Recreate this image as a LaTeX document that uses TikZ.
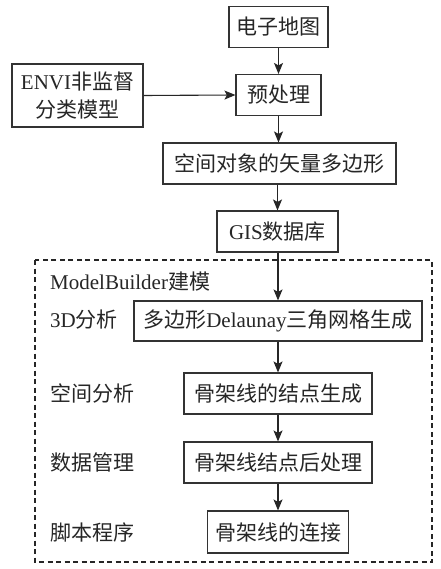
\documentclass[tikz,border=0pt]{standalone}
\usepackage{fontspec}
\setmainfont{Liberation Serif}
\newfontfamily\cjk{Noto Sans CJK SC}
\newcommand{\zh}[1]{{\cjk #1}}
\usetikzlibrary{arrows.meta}
\begin{document}
\begin{tikzpicture}[x=1pt,y=-1pt,
  box/.style={draw=black!80,line width=1.1pt,minimum height=41pt,inner sep=0pt,text=black!85,font=\fontsize{21}{28}\selectfont},
  lab/.style={anchor=west,inner sep=0pt,text=black!85,font=\fontsize{21}{28}\selectfont},
  flow/.style={draw=black!85,line width=1.1pt,-{Stealth[length=11pt,width=9pt,inset=2.5pt]}}]
\useasboundingbox (0,0) rectangle (440,569);
\fill[white] (0,0) rectangle (440,569);

\draw (278.5,27) node (map) [box,minimum width=99pt] {\zh{电子地图}};
\draw (278.5,95) node (pre) [box,minimum width=85pt] {\zh{预处理}};
\draw (77.5,95.5) node (envi) [box,minimum width=131pt,minimum height=63pt,align=center] {ENVI\zh{非监督}\\\zh{分类模型}};
\draw (279.5,163.5) node (vec) [box,minimum width=233pt] {\zh{空间对象的矢量多边形}};
\draw (277.5,231.5) node (gis) [box,minimum width=121pt] {GIS\zh{数据库}};

\draw[draw=black!85,line width=1.1pt,dash pattern=on 5pt off 3.5pt] (35,260) rectangle (432,562);
\draw (50,282) node (mb) [lab] {ModelBuilder\zh{建模}};

\draw (278,321) node (dela) [box,minimum width=288pt,minimum height=40pt] {\zh{多边形}Delaunay\zh{三角网格生成}};
\draw (278,393.5) node (knot) [box,minimum width=188pt] {\zh{骨架线的结点生成}};
\draw (278,462.5) node (post) [box,minimum width=188pt] {\zh{骨架线结点后处理}};
\draw (278,532) node (link) [box,minimum width=141pt,minimum height=42pt] {\zh{骨架线的连接}};

\draw (50,320) node (ana3d) [lab] {3D\zh{分析}};
\draw (50,393.5) node (spa) [lab] {\zh{空间分析}};
\draw (50,462.5) node (dm) [lab] {\zh{数据管理}};
\draw (50,532) node (scr) [lab] {\zh{脚本程序}};

\draw[flow] (map) -- (pre);
\draw[flow] (envi.east) -- (pre.west);
\draw[flow] (pre) -- (pre |- vec.north);
\draw[flow] (vec.south -| gis) -- (gis);
\draw[flow] (gis.south -| dela) -- (dela);
\draw[flow] (dela) -- (knot);
\draw[flow] (knot) -- (post);
\draw[flow] (post) -- (link);
\end{tikzpicture}
\end{document}
